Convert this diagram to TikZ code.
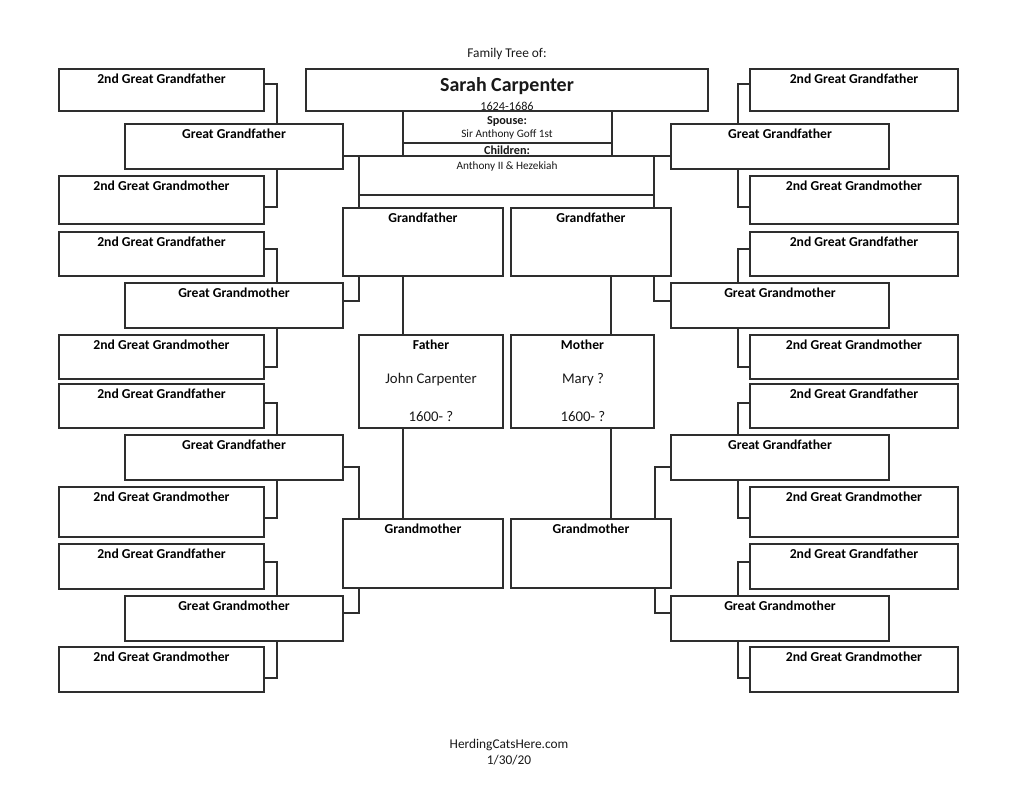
\documentclass[tikz,border=0pt]{standalone}
\usepackage{fontspec}
\setmainfont{Carlito}
\usetikzlibrary{fit}

\definecolor{ink}{HTML}{2E2E2E}

\tikzset{
  person/.style={draw=ink, line width=1.1pt, inner sep=0pt, fit={#1}},
  tag/.style={anchor=north, inner sep=0pt, text height=7pt, text depth=2pt,
    yshift=-3.6pt, font=\fontsize{9.7}{11}\selectfont\bfseries},
  link/.style={draw=ink, line width=1.1pt},
  txt/.style={anchor=base, inner sep=0pt, text=black!90},
}

\begin{document}
\begin{tikzpicture}[x=0.025cm,y=-0.025cm]
  \fill[white] (0,0) rectangle (1024,790);
  \useasboundingbox (0,0) rectangle (1024,790);

  % the subject
  \node[txt, font=\fontsize{9.5}{11}\selectfont] (title) at (507,57) {Family Tree of:};
  \node[person={(306,69) (708,111)}] (subj) {};
  \node[txt, font=\fontsize{14.2}{16}\selectfont\bfseries] (name) at (507,91) {Sarah Carpenter};
  \node[txt, font=\fontsize{8.7}{10}\selectfont] (dates) at (507,110) {1624-1686};
  \node[person={(403,111) (612,156)}] (spouse) {};
  \draw[link] (spouse.west |- 0,143) -- (spouse.east |- 0,143);
  \node[txt, font=\fontsize{8.7}{10}\selectfont\bfseries] (sphead) at (507,124) {Spouse:};
  \node[txt, font=\fontsize{8}{10}\selectfont] (spname) at (507,137.5) {Sir Anthony Goff 1st};
  \node[txt, font=\fontsize{8.7}{10}\selectfont\bfseries] (kidhead) at (507,154) {Children:};
  \node[person={(359,156) (654,195)}] (kids) {};
  \node[txt, font=\fontsize{8}{10}\selectfont] (kidnames) at (507,169) {Anthony II \& Hezekiah};

  % parents
  \node[person={(359,335) (503,428)}, label={[tag]north:Father}] (fa) {};
  \node[txt, font=\fontsize{10.5}{12}\selectfont] (faname) at (431,383) {John Carpenter};
  \node[txt, font=\fontsize{10.5}{12}\selectfont] (fadates) at (431,421) {1600- ?};
  \node[person={(511,335) (654,428)}, label={[tag]north:Mother}] (mo) {};
  \node[txt, font=\fontsize{10.5}{12}\selectfont] (moname) at (583,383) {Mary ?};
  \node[txt, font=\fontsize{10.5}{12}\selectfont] (modates) at (583,421) {1600- ?};

  % grandparents
  \node[person={(343,208) (503,276)}, label={[tag]north:Grandfather}] (lgf) {};
  \node[person={(343,519) (503,588)}, label={[tag]north:Grandmother}] (lgm) {};
  \node[person={(511,208) (671,276)}, label={[tag]north:Grandfather}] (rgf) {};
  \node[person={(511,519) (671,588)}, label={[tag]north:Grandmother}] (rgm) {};

  % great grandparents
  \foreach \g/\t/\b/\w in {1/124/169/Grandfather, 2/283/328/Grandmother,
                           3/435/480/Grandfather, 4/596/641/Grandmother} {
    \node[person={(125,\t) (343,\b)}, label={[tag]north:Great \w}] (lg\g) {};
    \node[person={(671,\t) (889,\b)}, label={[tag]north:Great \w}] (rg\g) {};
  }

  % 2nd great grandparents
  \foreach \n/\t/\b/\w in {1/69/111/Grandfather, 2/176/224/Grandmother,
                           3/232/276/Grandfather, 4/335/379/Grandmother,
                           5/384/428/Grandfather, 6/487/537/Grandmother,
                           7/544/589/Grandfather, 8/647/692/Grandmother} {
    \node[person={(59,\t) (264,\b)}, label={[tag]north:2nd Great \w}] (l\n) {};
    \node[person={(750,\t) (958,\b)}, label={[tag]north:2nd Great \w}] (r\n) {};
  }

  % outer brackets
  \foreach \g/\f/\m/\a/\b in {1/1/2/84/207, 2/3/4/249/367,
                              3/5/6/403/518, 4/7/8/562/678} {
    \draw[link] (l\f.east |- 0,\a) -| (lg\g.north -| 277,0);
    \draw[link] (lg\g.south -| 277,0) |- (l\m.east |- 0,\b);
    \draw[link] (r\f.west |- 0,\a) -| (rg\g.north -| 738,0);
    \draw[link] (rg\g.south -| 738,0) |- (r\m.west |- 0,\b);
  }

  % inner brackets
  \draw[link] (lg1.east |- 0,156) -| (lgf.north -| 359,0);
  \draw[link] (lgf.south -| 359,0) |- (lg2.east |- 0,301);
  \draw[link] (lg3.east |- 0,467) -| (lgm.north -| 359,0);
  \draw[link] (lgm.south -| 359,0) |- (lg4.east |- 0,613);
  \draw[link] (rg1.west |- 0,156) -| (rgf.north -| 654,0);
  \draw[link] (rgf.south -| 654,0) |- (rg2.west |- 0,301);
  \draw[link] (rg3.west |- 0,467) -| (rgm.north -| 655,0);
  \draw[link] (rgm.south -| 655,0) |- (rg4.west |- 0,613);

  % parent lines
  \draw[link] (lgf.south -| 403,0) -- (fa.north -| 403,0);
  \draw[link] (fa.south -| 403,0) -- (lgm.north -| 403,0);
  \draw[link] (rgf.south -| 611,0) -- (mo.north -| 611,0);
  \draw[link] (mo.south -| 611,0) -- (rgm.north -| 611,0);

  % footer
  \node[txt, font=\fontsize{9.5}{11}\selectfont] (site) at (509,748) {HerdingCatsHere.com};
  \node[txt, font=\fontsize{9.5}{11}\selectfont] (stamp) at (509,764) {1/30/20};
\end{tikzpicture}
\end{document}
